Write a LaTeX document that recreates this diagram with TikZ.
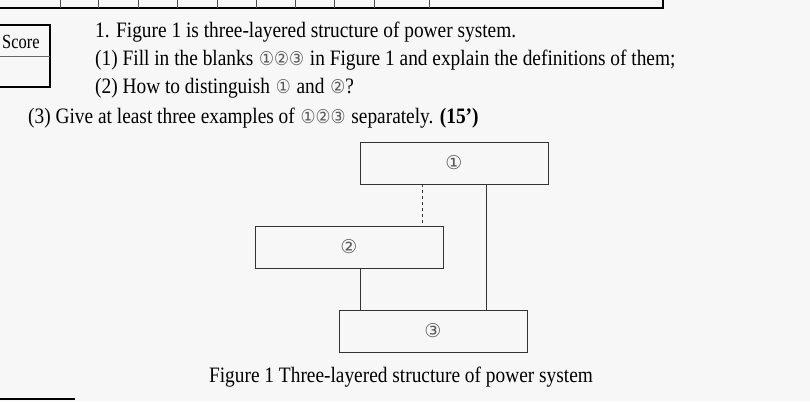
\documentclass[tikz,border=0pt]{standalone}
\usepackage{fontspec}
\setmainfont{Liberation Serif}
\newfontfamily\circf{DejaVu Sans}
\newcommand{\cc}[1]{{\circf\fontsize{19}{19}\selectfont\color{black!65}#1}}
\newcommand{\ccs}[1]{\hspace{0.3em}\cc{#1}\hspace{0.3em}}
\begin{document}
\begin{tikzpicture}[x=1pt,y=-1pt,
  lbox/.style={draw=black!80,line width=0.8pt},
  link/.style={draw=black!80,line width=0.8pt}]
\useasboundingbox[fill=black!3] (0,0) rectangle (810,401);
% top table remnant
\draw[line width=1.2pt] (0,8) -- (663,8) -- (663,0);
\foreach \x in {60,98,138,177,217,256,295,334,374,429} \draw[line width=0.8pt,black!70] (\x,0) -- (\x,8);
% score box
\draw[line width=1.2pt] (0,25) -- (50,25) -- (50,87) -- (0,87);
\draw[line width=0.6pt,black!60] (0,56) -- (50,56);
\node[anchor=west,inner sep=0pt,font=\fontsize{20}{22}\selectfont] (score) at (2,42) {\scalebox{0.82}[1]{Score}};
% question text
\node[anchor=west,inner sep=0pt,font=\fontsize{22}{24}\selectfont] (l1) at (95,32) {\scalebox{0.88}[1]{1. Figure 1 is three-layered structure of power system.}};
\node[anchor=west,inner sep=0pt,font=\fontsize{22}{24}\selectfont] (l2) at (95,60) {\scalebox{0.88}[1]{(1) Fill in the blanks\ccs{①②③}in Figure 1 and explain the definitions of them;}};
\node[anchor=west,inner sep=0pt,font=\fontsize{22}{24}\selectfont] (l3) at (95,88) {\scalebox{0.88}[1]{(2) How to distinguish\ccs{①}and\ccs{②}\hspace{-0.3em}?}};
\node[anchor=west,inner sep=0pt,font=\fontsize{22}{24}\selectfont] (l4) at (28,118) {\scalebox{0.88}[1]{(3) Give at least three examples of\ccs{①②③}separately. \textbf{(15’)}}};
% diagram
\node[lbox,minimum width=188pt,minimum height=42pt,inner sep=0pt] (b1) at (454,163) {\cc{①}};
\node[lbox,minimum width=188pt,minimum height=42pt,inner sep=0pt] (b2) at (349,247) {\cc{②}};
\node[lbox,minimum width=188pt,minimum height=42pt,inner sep=0pt] (b3) at (433,331) {\cc{③}};
\draw[link,dashed] (b1.south -| 422,0) -- (b2.north -| 422,0);
\draw[link] (b1.south -| 486,0) -- (b3.north -| 486,0);
\draw[link] (b2.south -| 360,0) -- (b3.north -| 360,0);
\node[inner sep=0pt,font=\fontsize{22}{24}\selectfont] (cap) at (401,377) {\scalebox{0.88}[1]{Figure 1 Three-layered structure of power system}};
\draw[line width=1.5pt] (0,399) -- (75,399);
\end{tikzpicture}
\end{document}
